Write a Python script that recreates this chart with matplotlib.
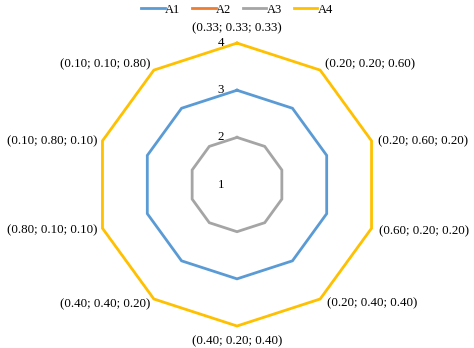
import numpy as np
import matplotlib
matplotlib.use("Agg")
import matplotlib.pyplot as plt

plt.rcParams['font.family'] = ['Liberation Serif', 'DejaVu Serif']

categories = ["(0.33; 0.33; 0.33)", "(0.20; 0.20; 0.60)", "(0.20; 0.60; 0.20)",
              "(0.60; 0.20; 0.20)", "(0.20; 0.40; 0.40)", "(0.40; 0.20; 0.40)",
              "(0.40; 0.40; 0.20)", "(0.80; 0.10; 0.10)", "(0.10; 0.80; 0.10)",
              "(0.10; 0.10; 0.80)"]
series_names = ["A1", "A2", "A3", "A4"]
a1 = [3, 3, 3, 3, 3, 3, 3, 3, 3, 3]
a2 = [1, 1, 1, 1, 1, 1, 1, 1, 1, 1]
a3 = [2, 2, 2, 2, 2, 2, 2, 2, 2, 2]
a4 = [4, 4, 4, 4, 4, 4, 4, 4, 4, 4]
radial_ticks = [1, 2, 3, 4]

colors = ["#5B9BD5", "#ED7D31", "#A5A5A5", "#FFC000"]

fig = plt.figure(figsize=(4.74, 3.48), dpi=100)
ax = fig.add_axes([0.2015, 0.0632, 0.597, 0.813], projection='polar')
ax.set_theta_zero_location('N')
ax.set_theta_direction(-1)

n = len(categories)
theta = np.linspace(0, 2 * np.pi, n, endpoint=False)
theta_closed = np.append(theta, theta[0])

for name, vals, c in zip(series_names, [a1, a2, a3, a4], colors):
    ax.plot(theta_closed, vals + vals[:1], color=c, lw=2.0, label=name,
            clip_on=False, solid_joinstyle='miter')

ax.set_ylim(1, 4)
ax.grid(False)
ax.spines['polar'].set_visible(False)
ax.set_xticks([])
ax.set_yticks([])
ax.patch.set_alpha(0)

# category labels around the outside
offsets = [(0, 15, 'center'), (5, 6, 'left'), (6, 0, 'left'), (7, -3, 'left'),
           (7, -4, 'left'), (0, -15, 'center'), (-3, -5, 'right'),
           (-5, -2, 'right'), (-5, 0, 'right'), (-3, 6, 'right')]
for t, lab, (dx, dy, ha) in zip(theta, categories, offsets):
    ax.annotate(lab, xy=(t, 4), xytext=(dx, dy), textcoords='offset pixels',
                ha=ha, va='center', fontsize=9.3, annotation_clip=False)

# radial value labels
for r in radial_ticks:
    ax.annotate(str(r), xy=(0, r), xytext=(-16, 0), textcoords='offset pixels',
                ha='center', va='center', fontsize=9.3, annotation_clip=False)

fig.legend(loc='upper center', bbox_to_anchor=(0.5, 1.022), ncol=4, frameon=False,
           fontsize=9, handlelength=1.9, handletextpad=0.05, columnspacing=0.9)

fig.savefig("out.png", dpi=100)
